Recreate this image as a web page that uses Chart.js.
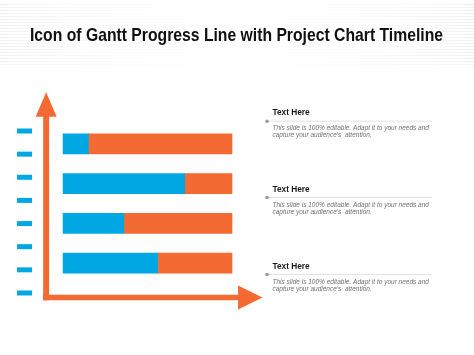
<!DOCTYPE html>
<html>
<head>
<meta charset="utf-8">
<script src="https://cdn.jsdelivr.net/npm/chart.js@4"></script>
<style>
  html, body { margin: 0; padding: 0; background: #ffffff; }
  #wrap { position: relative; width: 474px; height: 355px; }
</style>
</head>
<body>
<div id="wrap"><canvas id="c" width="474" height="355"></canvas></div>
<script>
// ---- data ----
const chartTitle = 'Icon of Gantt Progress Line with Project Chart Timeline';
const tasks = ['Task 1', 'Task 2', 'Task 3', 'Task 4'];
const done = [15, 72, 36, 56];
const remaining = [85, 28, 64, 44];
const tickMarks = [1, 2, 3, 4, 5, 6, 7, 8];
const tickMarkX = -22.8;
const noteTitles = ['Text Here', 'Text Here', 'Text Here'];
const noteLine1 = ['This slide is 100% editable. Adapt it to your needs and',
                   'This slide is 100% editable. Adapt it to your needs and',
                   'This slide is 100% editable. Adapt it to your needs and'];
const noteLine2 = ["capture your audience's  attention.",
                   "capture your audience's  attention.",
                   "capture your audience's  attention."];

const BLUE = '#00A7E3';
const ORANGE = '#F36A33';
const TITLE_FONT = '"Liberation Sans", Arial, sans-serif';

// faint striped header background
const headerPlugin = {
  id: 'header',
  beforeDraw(chart, args, o) {
    const ctx = chart.ctx, w = chart.width;
    ctx.save();
    const g = ctx.createLinearGradient(0, 0, w, 0);
    g.addColorStop(0, 'rgba(0,0,0,0.05)');
    g.addColorStop(0.2, 'rgba(0,0,0,0.015)');
    g.addColorStop(0.5, 'rgba(0,0,0,0.0)');
    g.addColorStop(0.8, 'rgba(0,0,0,0.015)');
    g.addColorStop(1, 'rgba(0,0,0,0.05)');
    ctx.fillStyle = g;
    for (let y = o.top; y < o.bottom; y += 3) ctx.fillRect(0, y, w, 1);
    ctx.restore();
  }
};

// condensed bold title, fitted to the reference width
const titlePlugin = {
  id: 'bigTitle',
  afterDraw(chart, args, o) {
    const ctx = chart.ctx;
    ctx.save();
    ctx.font = 'bold ' + o.size + 'px ' + TITLE_FONT;
    const natural = ctx.measureText(chartTitle).width;
    const sx = o.width / natural;
    ctx.translate(o.x, o.baseline);
    ctx.scale(sx, 1);
    ctx.fillStyle = '#111111';
    ctx.textAlign = 'center';
    ctx.textBaseline = 'alphabetic';
    ctx.fillText(chartTitle, 0, 0);
    ctx.restore();
  }
};

const arrowsPlugin = {
  id: 'arrows',
  afterDatasetsDraw(chart, args, o) {
    const ctx = chart.ctx, xs = chart.scales.x;
    const vx = xs.getPixelForValue(o.axisX);
    const hx0 = vx - 3;
    const hBase = xs.getPixelForValue(o.headBaseX);
    const hTip = xs.getPixelForValue(o.tipX);
    ctx.save();
    ctx.fillStyle = ORANGE;
    ctx.fillRect(vx - 3, o.vHeadBaseY - 1, 6, o.hY + 2.75 - (o.vHeadBaseY - 1));
    ctx.beginPath();
    ctx.moveTo(vx, o.vTipY);
    ctx.lineTo(vx + 10.5, o.vHeadBaseY);
    ctx.lineTo(vx - 10.5, o.vHeadBaseY);
    ctx.closePath();
    ctx.fill();
    ctx.fillRect(hx0, o.hY - 2.75, hBase + 1 - hx0, 5.5);
    ctx.beginPath();
    ctx.moveTo(hTip, o.hY);
    ctx.lineTo(hBase, o.hY - 12);
    ctx.lineTo(hBase, o.hY + 12);
    ctx.closePath();
    ctx.fill();
    ctx.restore();
  }
};

const notesPlugin = {
  id: 'notes',
  afterDraw(chart, args, o) {
    const ctx = chart.ctx;
    ctx.save();
    noteTitles.forEach((t, i) => {
      const y = o.dotY[i];
      ctx.strokeStyle = '#e2e2e2';
      ctx.lineWidth = 1;
      ctx.beginPath();
      ctx.moveTo(o.dotX, y + 0.5);
      ctx.lineTo(o.lineEnd, y + 0.5);
      ctx.stroke();
      ctx.fillStyle = '#9a9a9a';
      ctx.beginPath();
      ctx.arc(o.dotX, y + 0.5, 1.8, 0, Math.PI * 2);
      ctx.fill();
      ctx.textBaseline = 'alphabetic';
      ctx.textAlign = 'left';
      ctx.fillStyle = '#1a1a1a';
      ctx.font = 'bold 8.3px "Liberation Sans", Arial, sans-serif';
      ctx.fillText(t, o.textX, y - 5.5);
      ctx.fillStyle = '#727272';
      ctx.font = 'italic 6.5px "Liberation Sans", Arial, sans-serif';
      ctx.fillText(noteLine1[i], o.textX, y + 9.5);
      ctx.fillText(noteLine2[i], o.textX, y + 16.5);
    });
    ctx.restore();
  }
};

new Chart(document.getElementById('c'), {
  type: 'bar',
  data: {
    labels: tasks,
    datasets: [
      { label: 'Done', data: done, backgroundColor: BLUE, indexAxis: 'y',
        xAxisID: 'x', yAxisID: 'y', barThickness: 20, stack: 's' },
      { label: 'Remaining', data: remaining, backgroundColor: ORANGE, indexAxis: 'y',
        xAxisID: 'x', yAxisID: 'y', barThickness: 20, stack: 's' },
      { type: 'scatter', label: 'Ticks', indexAxis: 'x',
        data: tickMarks.map(v => ({ x: tickMarkX, y: v })),
        xAxisID: 'x', yAxisID: 'yd', pointStyle: 'line', radius: 7.5,
        borderWidth: 5, borderColor: BLUE, backgroundColor: BLUE, clip: false }
    ]
  },
  options: {
    responsive: false,
    animation: false,
    events: [],
    layout: { autoPadding: false, padding: { left: 9, right: 211.6, top: 124, bottom: 72 } },
    scales: {
      x: { type: 'linear', min: -32, max: 118, stacked: true, offset: false, display: false },
      y: { type: 'category', labels: tasks, offset: true, stacked: true, display: false },
      yd: { type: 'linear', axis: 'y', min: 0.6975, max: 7.569, reverse: true, offset: false, display: false }
    },
    plugins: {
      legend: { display: false },
      tooltip: { enabled: false },
      title: { display: false },
      header: { top: 4, bottom: 66 },
      bigTitle: { size: 17.8, width: 413, x: 236.5, baseline: 41 },
      arrows: { axisX: -10, headBaseX: 103.6, tipX: 118, vTipY: 92.3, vHeadBaseY: 116.7, hY: 297.5 },
      notes: { dotX: 267, textX: 272.5, lineEnd: 432, dotY: [120.7, 197, 274] }
    }
  },
  plugins: [headerPlugin, arrowsPlugin, notesPlugin, titlePlugin]
});
</script>
</body>
</html>
